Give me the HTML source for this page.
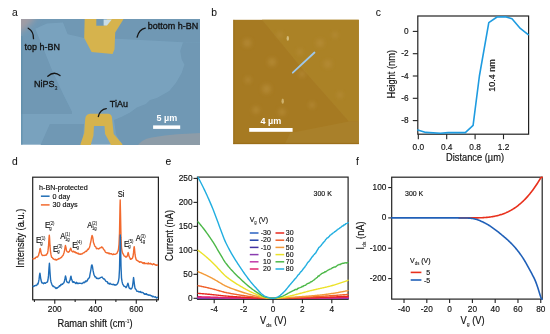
<!DOCTYPE html>
<html><head><meta charset="utf-8"><style>
html,body{margin:0;padding:0;background:#fff;width:550px;height:334px;overflow:hidden;}
svg{display:block;font-family:"Liberation Sans",sans-serif;will-change:transform;}
</style></head><body>
<svg width="550" height="334" viewBox="0 0 550 334" font-family="Liberation Sans, sans-serif">
<text transform="translate(12.1,15.7) scale(1,1.1)" font-size="10.3" text-anchor="start" fill="#111111" font-weight="normal" stroke="#111111" stroke-width="0.05" >a</text>
<text transform="translate(211.3,15.5) scale(1,1.1)" font-size="10.3" text-anchor="start" fill="#111111" font-weight="normal" stroke="#111111" stroke-width="0.05" >b</text>
<text transform="translate(375.7,15.5) scale(1,1.1)" font-size="10.3" text-anchor="start" fill="#111111" font-weight="normal" stroke="#111111" stroke-width="0.05" >c</text>
<text transform="translate(12.1,165.1) scale(1,1.1)" font-size="10.3" text-anchor="start" fill="#111111" font-weight="normal" stroke="#111111" stroke-width="0.05" >d</text>
<text transform="translate(165.4,165.0) scale(1,1.1)" font-size="10.3" text-anchor="start" fill="#111111" font-weight="normal" stroke="#111111" stroke-width="0.05" >e</text>
<text transform="translate(356.1,165.0) scale(1,1.1)" font-size="10.3" text-anchor="start" fill="#111111" font-weight="normal" stroke="#111111" stroke-width="0.05" >f</text>
<svg x="21.0" y="19.5" width="179.0" height="125.19999999999999" viewBox="21.0 19.5 179.0 125.19999999999999" overflow="hidden">
<defs><filter id="ba" x="-20%" y="-20%" width="140%" height="140%"><feGaussianBlur stdDeviation="0.6"/></filter><filter id="bc" x="-50%" y="-50%" width="200%" height="200%"><feGaussianBlur stdDeviation="3"/></filter></defs>
<rect x="21.0" y="19.5" width="179.0" height="125.19999999999999" fill="#79a2be"/>
<g filter="url(#ba)">
<polygon points="10,10 210,10 210,42.4 183,42.2 116.9,38.7 84.2,37.9 67.6,34.2 63,22.5 47,23.4 35.3,28.8 44,50 52,70 63.6,95 72,111.8 72,114.1 10,114.1" fill="#6f98b4"/>
<polygon points="183,42.2 180.2,51 181.6,59.3 184.4,64.8 181.6,73 176,82.7 169.2,91 156.8,97.9 150,100 145.8,104 136.8,107.5 130,112.5 121.7,116.7 114,120 116,134 124,150 210,150 210,42.4" fill="#6f98b4"/>
<polygon points="38.3,150 49.8,124 84,124 82,150" fill="#6f98b4"/>
<path d="M135,150 Q140,139 151.8,137.6 Q165,135 176.9,134.3 L210,132.6 L210,150 Z" fill="#8d9ca8"/>
</g>
<rect x="21.0" y="36" width="1.6" height="108.69999999999999" fill="#5a8aa8" opacity="0.55"/>
<polygon points="10,10 40,10 32,22 24,30 10,36" fill="#a09ca4" filter="url(#bc)"/>
<polygon points="84.9,10 96.3,10 96.3,25.8 104.4,25.8 110.5,10 123.3,10 123.3,19.5 115.2,32.5 114.5,49.3 112.5,54 91.6,52 84.2,37.9" fill="#d6b34e" filter="url(#ba)"/>
<polygon points="103.6,19.5 111.8,19.5 107,25.6 103.6,25.6" fill="#c9dde8" filter="url(#ba)"/>
<path d="M80.5,150 L80.5,144 L84.2,133.2 L85.2,119 Q85.8,114 90,113.8 L108,113.8 Q111.8,114 112,118 L113.7,133.9 L122.3,144 L123,150 L111,150 L110.6,144 L105.1,133.9 L104.5,126.1 L94,126.1 L93.4,135.7 L91,144 L91,150 Z" fill="#d6b34e" filter="url(#ba)"/>
</svg>
<path d="M28.2,28.2 Q33.8,31.5 33.5,38.7" fill="none" stroke="#151515" stroke-width="1.3" stroke-linecap="round"/>
<text transform="translate(24.6,49.6) scale(1,1.1)" font-size="9" text-anchor="start" fill="#111111" font-weight="normal" stroke="#111111" stroke-width="0.3" >top h-BN</text>
<path d="M145.3,28.2 Q139,29.5 137.1,37.2" fill="none" stroke="#151515" stroke-width="1.3" stroke-linecap="round"/>
<text transform="translate(147.8,29.2) scale(1,1.1)" font-size="9" text-anchor="start" fill="#111111" font-weight="normal" stroke="#111111" stroke-width="0.3" >bottom h-BN</text>
<path d="M47.8,76.3 Q54,70.5 60,75.6" fill="none" stroke="#151515" stroke-width="1.3" stroke-linecap="round"/>
<text transform="translate(33.9,86.9) scale(1,1.1)" font-size="9" text-anchor="start" fill="#111111" font-weight="normal" stroke="#111111" stroke-width="0.3" >NiPS<tspan font-size="5.4" stroke-width="0.05" dy="2.9">3</tspan></text>
<path d="M106.3,108.7 Q100.2,109.5 98.3,116.5" fill="none" stroke="#151515" stroke-width="1.3" stroke-linecap="round"/>
<text transform="translate(109.8,107.1) scale(1,1.1)" font-size="9" text-anchor="start" fill="#111111" font-weight="normal" stroke="#111111" stroke-width="0.3" >TiAu</text>
<text transform="translate(156.6,121.4) scale(1,1.1)" font-size="9" text-anchor="start" fill="#ffffff" font-weight="bold"  >5 µm</text>
<rect x="153.1" y="125.4" width="27.1" height="3.5" fill="#ffffff"/>
<svg x="233.2" y="19.8" width="125.69999999999999" height="124.3" viewBox="233.2 19.8 125.69999999999999 124.3" overflow="hidden">
<defs><filter id="bl" x="-50%" y="-50%" width="200%" height="200%"><feGaussianBlur stdDeviation="2.2"/></filter><filter id="bs" x="-100%" y="-100%" width="300%" height="300%"><feGaussianBlur stdDeviation="0.5"/></filter></defs>
<rect x="233.2" y="19.8" width="125.69999999999999" height="124.3" fill="#a67a22"/>
<polygon points="262,19.8 358.7,19.8 358.7,121.5 349,121.5 300,66" fill="#ab8228" filter="url(#bs)"/>
<polygon points="290,133 349,121.5 358.7,121.5 358.7,143.7 285,143.7" fill="#a9802a"/>
<circle cx="247.3" cy="43" r="4" fill="#b88e3a" opacity="0.7" filter="url(#bl)"/>
<circle cx="272" cy="62" r="4" fill="#b88e3a" opacity="0.7" filter="url(#bl)"/>
<circle cx="266.5" cy="89" r="4.5" fill="#b88e3a" opacity="0.7" filter="url(#bl)"/>
<circle cx="320" cy="43" r="4" fill="#b88e3a" opacity="0.7" filter="url(#bl)"/>
<circle cx="327.8" cy="64" r="4" fill="#b88e3a" opacity="0.7" filter="url(#bl)"/>
<circle cx="302" cy="74" r="3" fill="#b88e3a" opacity="0.7" filter="url(#bl)"/>
<circle cx="256" cy="110" r="3.5" fill="#b88e3a" opacity="0.7" filter="url(#bl)"/>
<circle cx="282" cy="112" r="3.5" fill="#b88e3a" opacity="0.7" filter="url(#bl)"/>
<circle cx="312" cy="105" r="3" fill="#b88e3a" opacity="0.7" filter="url(#bl)"/>
<circle cx="340" cy="95" r="3" fill="#b88e3a" opacity="0.7" filter="url(#bl)"/>
<circle cx="300" cy="52" r="3" fill="#b88e3a" opacity="0.7" filter="url(#bl)"/>
<circle cx="248" cy="80" r="3" fill="#b88e3a" opacity="0.7" filter="url(#bl)"/>
<circle cx="335" cy="35" r="3" fill="#b88e3a" opacity="0.7" filter="url(#bl)"/>
<circle cx="280" cy="35" r="3" fill="#b88e3a" opacity="0.7" filter="url(#bl)"/>
<ellipse cx="287.8" cy="38.4" rx="1.2" ry="2.4" fill="#dcc78a" filter="url(#bs)" opacity="0.85"/>
<ellipse cx="282.7" cy="101.2" rx="1.2" ry="2.6" fill="#d8c080" filter="url(#bs)" opacity="0.8"/>
<rect x="233.2" y="142.9" width="125.69999999999999" height="1.2" fill="#946512" opacity="0.6"/>
<rect x="233.2" y="19.8" width="1.2" height="124.3" fill="#946512" opacity="0.5"/>
</svg>
<line x1="292.8" y1="72.7" x2="314.5" y2="52.5" stroke="#9ec8ec" stroke-width="1.8" stroke-linecap="round"/>
<text transform="translate(260.6,123.9) scale(1,1.1)" font-size="9" text-anchor="start" fill="#ffffff" font-weight="bold"  >4 µm</text>
<rect x="249.2" y="128" width="43.4" height="3.8" fill="#ffffff"/>
<rect x="417.8" y="16.0" width="110.80000000000001" height="118.19999999999999" fill="none" stroke="#222222" stroke-width="1.2"/>
<line x1="412.8" y1="31.4" x2="417.8" y2="31.4" stroke="#222222" stroke-width="1.1"/>
<text transform="translate(408.6,33.9) scale(1,1.1)" font-size="8.3" text-anchor="end" fill="#111111" font-weight="normal" stroke="#111111" stroke-width="0.15" >0</text>
<line x1="412.8" y1="53.7" x2="417.8" y2="53.7" stroke="#222222" stroke-width="1.1"/>
<text transform="translate(408.6,56.2) scale(1,1.1)" font-size="8.3" text-anchor="end" fill="#111111" font-weight="normal" stroke="#111111" stroke-width="0.15" >-2</text>
<line x1="412.8" y1="76.0" x2="417.8" y2="76.0" stroke="#222222" stroke-width="1.1"/>
<text transform="translate(408.6,78.5) scale(1,1.1)" font-size="8.3" text-anchor="end" fill="#111111" font-weight="normal" stroke="#111111" stroke-width="0.15" >-4</text>
<line x1="412.8" y1="98.30000000000001" x2="417.8" y2="98.30000000000001" stroke="#222222" stroke-width="1.1"/>
<text transform="translate(408.6,100.80000000000001) scale(1,1.1)" font-size="8.3" text-anchor="end" fill="#111111" font-weight="normal" stroke="#111111" stroke-width="0.15" >-6</text>
<line x1="412.8" y1="120.6" x2="417.8" y2="120.6" stroke="#222222" stroke-width="1.1"/>
<text transform="translate(408.6,123.1) scale(1,1.1)" font-size="8.3" text-anchor="end" fill="#111111" font-weight="normal" stroke="#111111" stroke-width="0.15" >-8</text>
<line x1="418.3" y1="134.2" x2="418.3" y2="139.2" stroke="#222222" stroke-width="1.1"/>
<text transform="translate(418.3,149.6) scale(1,1.1)" font-size="8.3" text-anchor="middle" fill="#111111" font-weight="normal" stroke="#111111" stroke-width="0.15" >0.0</text>
<line x1="446.7" y1="134.2" x2="446.7" y2="139.2" stroke="#222222" stroke-width="1.1"/>
<text transform="translate(446.7,149.6) scale(1,1.1)" font-size="8.3" text-anchor="middle" fill="#111111" font-weight="normal" stroke="#111111" stroke-width="0.15" >0.4</text>
<line x1="475.1" y1="134.2" x2="475.1" y2="139.2" stroke="#222222" stroke-width="1.1"/>
<text transform="translate(475.1,149.6) scale(1,1.1)" font-size="8.3" text-anchor="middle" fill="#111111" font-weight="normal" stroke="#111111" stroke-width="0.15" >0.8</text>
<line x1="503.5" y1="134.2" x2="503.5" y2="139.2" stroke="#222222" stroke-width="1.1"/>
<text transform="translate(503.5,149.6) scale(1,1.1)" font-size="8.3" text-anchor="middle" fill="#111111" font-weight="normal" stroke="#111111" stroke-width="0.15" >1.2</text>
<text transform="translate(394.6,74.3) rotate(-90) scale(1,1.1)" x="0" y="0" font-size="9.3" text-anchor="middle" fill="#111111" stroke="#111111" stroke-width="0.15">Height (nm)</text>
<text transform="translate(475.0,160.6) scale(1,1.1)" font-size="9.3" text-anchor="middle" fill="#111111" font-weight="normal" stroke="#111111" stroke-width="0.15" >Distance (µm)</text>
<polyline points="417.80,130.00 425.80,132.40 440.50,133.20 448.10,132.60 465.30,132.60 473.10,125.30 479.40,76.00 488.80,22.70 497.00,17.00 505.40,16.70 512.00,18.80 520.30,28.40 528.20,34.60" fill="none" stroke="#1e9be0" stroke-width="1.6" stroke-linejoin="round" stroke-linecap="round" />
<text transform="translate(495.3,75.5) rotate(-90) scale(1,1.1)" x="0" y="0" font-size="9" text-anchor="middle" fill="#111111" stroke="#111111" stroke-width="0.15">10.4 nm</text>
<rect x="32.7" y="177.2" width="125.7" height="122.60000000000002" fill="none" stroke="#222222" stroke-width="1.2"/>
<line x1="34.4" y1="299.8" x2="34.4" y2="302.0" stroke="#222222" stroke-width="1.1"/>
<line x1="54.775" y1="299.8" x2="54.775" y2="303.8" stroke="#222222" stroke-width="1.1"/>
<text transform="translate(54.775,312.2) scale(1,1.1)" font-size="8.3" text-anchor="middle" fill="#111111" font-weight="normal" stroke="#111111" stroke-width="0.15" >200</text>
<line x1="75.15" y1="299.8" x2="75.15" y2="302.0" stroke="#222222" stroke-width="1.1"/>
<line x1="95.52499999999999" y1="299.8" x2="95.52499999999999" y2="303.8" stroke="#222222" stroke-width="1.1"/>
<text transform="translate(95.52499999999999,312.2) scale(1,1.1)" font-size="8.3" text-anchor="middle" fill="#111111" font-weight="normal" stroke="#111111" stroke-width="0.15" >400</text>
<line x1="115.9" y1="299.8" x2="115.9" y2="302.0" stroke="#222222" stroke-width="1.1"/>
<line x1="136.275" y1="299.8" x2="136.275" y2="303.8" stroke="#222222" stroke-width="1.1"/>
<text transform="translate(136.275,312.2) scale(1,1.1)" font-size="8.3" text-anchor="middle" fill="#111111" font-weight="normal" stroke="#111111" stroke-width="0.15" >600</text>
<line x1="156.64999999999998" y1="299.8" x2="156.64999999999998" y2="302.0" stroke="#222222" stroke-width="1.1"/>
<text transform="translate(95.0,327.0) scale(1,1.1)" font-size="9.3" text-anchor="middle" fill="#111111" font-weight="normal" stroke="#111111" stroke-width="0.15" >Raman shift (cm<tspan font-size="4.8" stroke-width="0.05" dy="-3.3">-1</tspan><tspan dy="3.3">)</tspan></text>
<text transform="translate(24.4,238.2) rotate(-90) scale(1,1.1)" x="0" y="0" font-size="9.3" text-anchor="middle" fill="#111111" stroke="#111111" stroke-width="0.15">Intensity (a.u.)</text>
<text transform="translate(39.0,189.6) scale(1,1.1)" font-size="7.2" text-anchor="start" fill="#111111" font-weight="normal" stroke="#111111" stroke-width="0.15" >h-BN-protected</text>
<line x1="40.9" y1="196.2" x2="49.6" y2="196.2" stroke="#1f6db5" stroke-width="1.5"/>
<text transform="translate(52.5,198.6) scale(1,1.1)" font-size="7.2" text-anchor="start" fill="#111111" font-weight="normal" stroke="#111111" stroke-width="0.15" >0 day</text>
<line x1="40.9" y1="204.9" x2="49.6" y2="204.9" stroke="#f26a2e" stroke-width="1.5"/>
<text transform="translate(52.5,207.3) scale(1,1.1)" font-size="7.2" text-anchor="start" fill="#111111" font-weight="normal" stroke="#111111" stroke-width="0.15" >30 days</text>
<polyline points="33.00,258.80 33.50,258.99 34.00,258.71 34.50,258.52 35.00,258.64 35.50,257.44 36.00,257.41 36.50,256.91 37.00,257.03 37.50,257.03 38.00,256.15 38.50,255.60 39.00,253.46 39.50,251.85 40.00,248.89 40.20,248.45 40.50,249.24 41.00,252.37 41.50,253.91 42.00,255.09 42.50,255.55 43.00,255.41 43.50,255.42 44.00,255.54 44.50,255.37 45.00,255.31 45.50,255.30 46.00,254.92 46.50,255.08 47.00,253.64 47.50,253.36 48.00,250.63 48.50,246.18 49.00,238.02 49.30,235.18 49.50,236.76 50.00,245.93 50.50,251.57 51.00,254.70 51.50,256.92 52.00,257.45 52.50,257.74 53.00,258.75 53.50,258.76 54.00,259.34 54.50,259.64 55.00,259.56 55.50,259.27 56.00,260.07 56.50,260.11 57.00,259.50 57.50,259.50 58.00,259.40 58.50,258.57 59.00,258.88 59.50,258.71 60.00,258.19 60.50,257.89 61.00,257.52 61.50,257.55 62.00,256.42 62.50,255.86 63.00,255.47 63.50,254.15 64.00,252.73 64.50,250.86 65.00,247.73 65.40,245.52 65.50,245.59 66.00,247.68 66.50,250.52 67.00,251.50 67.50,251.82 68.00,252.02 68.50,252.21 69.00,251.68 69.50,251.33 70.00,249.70 70.50,248.56 70.70,248.31 71.00,248.78 71.50,250.50 72.00,251.31 72.50,251.76 73.00,251.94 73.50,251.12 74.00,251.49 74.50,252.16 75.00,252.45 75.50,251.93 76.00,253.09 76.50,252.73 77.00,253.01 77.50,253.39 78.00,253.76 78.50,253.19 79.00,254.23 79.50,254.10 80.00,253.98 80.50,254.34 81.00,253.85 81.50,254.06 82.00,254.02 82.50,253.38 83.00,253.17 83.50,252.88 84.00,252.59 84.50,252.56 85.00,251.81 85.50,251.32 86.00,251.17 86.50,251.41 87.00,250.23 87.50,250.13 88.00,248.91 88.50,249.32 89.00,248.27 89.50,247.42 90.00,245.42 90.50,242.98 91.00,240.87 91.50,237.76 92.00,235.61 92.10,235.53 92.50,236.49 93.00,238.89 93.50,242.67 94.00,243.71 94.50,245.25 95.00,246.41 95.50,246.64 96.00,247.47 96.50,248.77 97.00,248.45 97.50,248.52 98.00,248.47 98.50,248.92 99.00,248.73 99.50,248.34 100.00,247.86 100.50,247.82 101.00,247.57 101.50,246.90 102.00,247.62 102.50,247.30 103.00,248.22 103.50,249.20 104.00,249.89 104.50,250.14 105.00,251.28 105.50,252.15 106.00,252.55 106.50,252.64 107.00,253.02 107.50,253.04 108.00,252.67 108.50,253.16 109.00,253.84 109.50,253.15 110.00,253.73 110.50,253.72 111.00,253.69 111.50,253.80 112.00,254.33 112.50,254.54 113.00,254.66 113.50,253.95 114.00,254.25 114.50,254.34 115.00,254.40 115.50,254.12 116.00,253.95 116.50,253.73 117.00,253.19 117.50,251.95 118.00,251.16 118.50,249.06 119.00,244.29 119.50,233.24 120.00,206.39 120.20,200.02 120.50,212.72 121.00,237.39 121.50,247.57 122.00,250.81 122.50,252.82 123.00,253.65 123.50,254.57 124.00,255.70 124.50,256.06 125.00,256.18 125.50,256.87 126.00,257.18 126.50,256.72 127.00,256.53 127.50,255.32 128.00,252.94 128.20,252.59 128.50,253.61 129.00,256.15 129.50,257.24 130.00,258.13 130.50,259.38 131.00,258.53 131.50,259.01 132.00,258.44 132.50,258.07 133.00,256.58 133.50,252.67 134.00,247.47 134.20,246.59 134.50,248.63 135.00,254.21 135.50,257.27 136.00,259.13 136.50,260.19 137.00,260.43 137.50,260.38 138.00,261.08 138.50,261.22 139.00,261.58 139.50,262.26 140.00,261.73 140.50,261.97 141.00,261.83 141.50,262.20 142.00,262.26 142.50,263.17 143.00,262.87 143.50,262.71 144.00,263.74 144.50,262.67 145.00,263.51 145.50,263.64 146.00,263.56 146.50,263.34 147.00,263.46 147.50,263.46 148.00,263.92 148.50,262.90 149.00,263.61 149.50,263.91 150.00,263.73 150.50,263.35 151.00,263.96 151.50,263.83 152.00,264.43 152.50,264.69 153.00,264.28 153.50,263.64 154.00,264.30 154.50,264.10 155.00,264.72 155.50,265.12 156.00,264.70 156.50,265.35 157.00,265.22 157.50,264.99" fill="none" stroke="#f26a2e" stroke-width="1.4" stroke-linejoin="round" stroke-linecap="round" />
<polyline points="33.00,286.24 33.50,286.61 34.00,286.45 34.50,285.73 35.00,285.67 35.50,285.43 36.00,285.62 36.50,285.16 37.00,285.10 37.50,283.65 38.00,284.01 38.50,282.00 39.00,279.67 39.50,275.24 39.90,273.21 40.00,273.33 40.50,277.04 41.00,280.05 41.50,281.87 42.00,283.05 42.50,282.94 43.00,282.92 43.50,283.65 44.00,283.26 44.50,282.84 45.00,283.19 45.50,283.21 46.00,282.76 46.50,282.33 47.00,282.32 47.50,281.83 48.00,279.72 48.50,275.64 49.00,268.14 49.40,263.30 49.50,263.72 50.00,272.32 50.50,279.14 51.00,281.92 51.50,283.39 52.00,284.79 52.50,285.52 53.00,286.41 53.50,286.07 54.00,286.71 54.50,287.04 55.00,287.09 55.50,288.08 56.00,288.55 56.50,287.81 57.00,288.24 57.50,287.73 58.00,287.33 58.50,286.92 59.00,286.78 59.50,285.64 60.00,285.97 60.50,285.60 61.00,284.39 61.50,284.74 62.00,284.11 62.50,284.25 63.00,283.52 63.50,283.22 64.00,282.59 64.50,280.72 65.00,278.50 65.50,275.94 65.50,275.94 66.00,277.89 66.50,280.96 67.00,282.00 67.50,282.22 68.00,282.66 68.50,282.81 69.00,282.71 69.50,280.89 70.00,280.37 70.50,277.69 70.90,276.10 71.00,276.20 71.50,279.01 72.00,280.14 72.50,281.75 73.00,282.46 73.50,281.66 74.00,282.22 74.50,282.04 75.00,282.72 75.50,283.27 76.00,283.55 76.50,282.30 77.00,282.80 77.50,283.32 78.00,283.69 78.50,283.34 79.00,282.99 79.50,283.41 80.00,283.35 80.50,283.33 81.00,283.18 81.50,283.61 82.00,283.61 82.50,283.23 83.00,282.94 83.50,282.31 84.00,282.33 84.50,282.64 85.00,281.85 85.50,281.09 86.00,281.71 86.50,281.03 87.00,281.14 87.50,279.98 88.00,279.26 88.50,278.21 89.00,278.23 89.50,277.37 90.00,274.36 90.50,271.89 91.00,269.12 91.50,265.61 91.90,264.87 92.00,264.91 92.50,266.78 93.00,270.15 93.50,272.52 94.00,274.85 94.50,275.75 95.00,276.93 95.50,276.69 96.00,277.34 96.50,278.41 97.00,278.10 97.50,278.54 98.00,278.50 98.50,278.71 99.00,278.45 99.50,278.41 100.00,277.90 100.50,277.55 101.00,277.40 101.50,277.33 102.00,276.94 102.50,277.61 103.00,278.23 103.50,278.81 104.00,279.05 104.50,278.95 105.00,280.05 105.50,280.60 106.00,281.34 106.50,281.60 107.00,281.61 107.50,282.02 108.00,283.42 108.50,283.18 109.00,283.75 109.50,284.05 110.00,283.21 110.50,283.82 111.00,284.04 111.50,284.26 112.00,284.43 112.50,284.48 113.00,284.64 113.50,284.21 114.00,284.83 114.50,284.76 115.00,285.18 115.50,284.80 116.00,284.97 116.50,284.77 117.00,284.21 117.50,283.64 118.00,282.65 118.50,281.01 119.00,277.87 119.50,269.27 120.00,246.65 120.30,235.04 120.50,241.06 121.00,266.31 121.50,277.84 122.00,281.42 122.50,283.39 123.00,284.68 123.50,285.33 124.00,286.20 124.50,286.33 125.00,286.49 125.50,286.81 126.00,287.66 126.50,287.02 127.00,285.85 127.50,284.39 127.90,283.19 128.00,283.33 128.50,285.19 129.00,287.63 129.50,288.48 130.00,288.20 130.50,288.93 131.00,289.12 131.50,288.64 132.00,287.85 132.50,286.45 133.00,282.50 133.50,277.73 133.60,277.52 134.00,280.72 134.50,285.08 135.00,288.23 135.50,289.03 136.00,289.53 136.50,290.54 137.00,291.38 137.50,291.42 138.00,291.15 138.50,291.80 139.00,291.61 139.50,291.92 140.00,292.18 140.50,291.51 141.00,292.56 141.50,292.30 142.00,292.59 142.50,292.48 143.00,292.64 143.50,293.01 144.00,293.79 144.50,294.25 145.00,293.82 145.50,294.37 146.00,294.06 146.50,293.65 147.00,294.53 147.50,294.79 148.00,294.65 148.50,295.06 149.00,295.32 149.50,294.97 150.00,294.92 150.50,295.50 151.00,295.64 151.50,295.73 152.00,296.34 152.50,296.74 153.00,296.13 153.50,296.66 154.00,296.89 154.50,296.95 155.00,297.20 155.50,296.84 156.00,297.37 156.50,297.96 157.00,297.67 157.50,297.32" fill="none" stroke="#1f6db8" stroke-width="1.4" stroke-linejoin="round" stroke-linecap="round" />
<text transform="translate(35.9,243.15) scale(1,1.1)" font-size="7.6" text-anchor="start" fill="#111111" font-weight="normal" stroke="#111111" stroke-width="0.15" >E</text>
<text transform="translate(40.199999999999996,244.75) scale(1,1.1)" font-size="4.3" text-anchor="start" fill="#111111" font-weight="normal" stroke="#111111" stroke-width="0.05" >g</text>
<text transform="translate(40.199999999999996,239.75) scale(1,1.1)" font-size="4.3" text-anchor="start" fill="#111111" font-weight="normal" stroke="#111111" stroke-width="0.05" >(1)</text>
<text transform="translate(45.0,228.1) scale(1,1.1)" font-size="7.6" text-anchor="start" fill="#111111" font-weight="normal" stroke="#111111" stroke-width="0.15" >E</text>
<text transform="translate(49.3,229.7) scale(1,1.1)" font-size="4.3" text-anchor="start" fill="#111111" font-weight="normal" stroke="#111111" stroke-width="0.05" >g</text>
<text transform="translate(49.3,224.7) scale(1,1.1)" font-size="4.3" text-anchor="start" fill="#111111" font-weight="normal" stroke="#111111" stroke-width="0.05" >(2)</text>
<text transform="translate(52.9,251.8) scale(1,1.1)" font-size="7.6" text-anchor="start" fill="#111111" font-weight="normal" stroke="#111111" stroke-width="0.15" >E</text>
<text transform="translate(57.199999999999996,253.4) scale(1,1.1)" font-size="4.3" text-anchor="start" fill="#111111" font-weight="normal" stroke="#111111" stroke-width="0.05" >g</text>
<text transform="translate(57.199999999999996,248.4) scale(1,1.1)" font-size="4.3" text-anchor="start" fill="#111111" font-weight="normal" stroke="#111111" stroke-width="0.05" >(3)</text>
<text transform="translate(60.2,239.2) scale(1,1.1)" font-size="7.6" text-anchor="start" fill="#111111" font-weight="normal" stroke="#111111" stroke-width="0.15" >A</text>
<text transform="translate(64.9,240.79999999999998) scale(1,1.1)" font-size="4.3" text-anchor="start" fill="#111111" font-weight="normal" stroke="#111111" stroke-width="0.05" >1g</text>
<text transform="translate(64.9,235.79999999999998) scale(1,1.1)" font-size="4.3" text-anchor="start" fill="#111111" font-weight="normal" stroke="#111111" stroke-width="0.05" >(1)</text>
<text transform="translate(72.3,247.6) scale(1,1.1)" font-size="7.6" text-anchor="start" fill="#111111" font-weight="normal" stroke="#111111" stroke-width="0.15" >E</text>
<text transform="translate(76.6,249.2) scale(1,1.1)" font-size="4.3" text-anchor="start" fill="#111111" font-weight="normal" stroke="#111111" stroke-width="0.05" >g</text>
<text transform="translate(76.6,244.2) scale(1,1.1)" font-size="4.3" text-anchor="start" fill="#111111" font-weight="normal" stroke="#111111" stroke-width="0.05" >(4)</text>
<text transform="translate(87.2,228.0) scale(1,1.1)" font-size="7.6" text-anchor="start" fill="#111111" font-weight="normal" stroke="#111111" stroke-width="0.15" >A</text>
<text transform="translate(91.9,229.6) scale(1,1.1)" font-size="4.3" text-anchor="start" fill="#111111" font-weight="normal" stroke="#111111" stroke-width="0.05" >1g</text>
<text transform="translate(91.9,224.6) scale(1,1.1)" font-size="4.3" text-anchor="start" fill="#111111" font-weight="normal" stroke="#111111" stroke-width="0.05" >(2)</text>
<text transform="translate(117.7,196.6) scale(1,1.1)" font-size="7.6" text-anchor="start" fill="#111111" font-weight="normal" stroke="#111111" stroke-width="0.15" >Si</text>
<text transform="translate(123.9,246.8) scale(1,1.1)" font-size="7.6" text-anchor="start" fill="#111111" font-weight="normal" stroke="#111111" stroke-width="0.15" >E</text>
<text transform="translate(128.20000000000002,248.4) scale(1,1.1)" font-size="4.3" text-anchor="start" fill="#111111" font-weight="normal" stroke="#111111" stroke-width="0.05" >g</text>
<text transform="translate(128.20000000000002,243.4) scale(1,1.1)" font-size="4.3" text-anchor="start" fill="#111111" font-weight="normal" stroke="#111111" stroke-width="0.05" >(5)</text>
<text transform="translate(135.7,241.4) scale(1,1.1)" font-size="7.6" text-anchor="start" fill="#111111" font-weight="normal" stroke="#111111" stroke-width="0.15" >A</text>
<text transform="translate(140.39999999999998,243.0) scale(1,1.1)" font-size="4.3" text-anchor="start" fill="#111111" font-weight="normal" stroke="#111111" stroke-width="0.05" >1g</text>
<text transform="translate(140.39999999999998,238.0) scale(1,1.1)" font-size="4.3" text-anchor="start" fill="#111111" font-weight="normal" stroke="#111111" stroke-width="0.05" >(3)</text>
<rect x="197.5" y="177.1" width="150.60000000000002" height="122.20000000000002" fill="none" stroke="#222222" stroke-width="1.2"/>
<line x1="193.5" y1="298.3" x2="197.5" y2="298.3" stroke="#222222" stroke-width="1.1"/>
<text transform="translate(192.6,300.8) scale(1,1.1)" font-size="8.3" text-anchor="end" fill="#111111" font-weight="normal" stroke="#111111" stroke-width="0.15" >0</text>
<line x1="193.5" y1="274.32" x2="197.5" y2="274.32" stroke="#222222" stroke-width="1.1"/>
<text transform="translate(192.6,276.82) scale(1,1.1)" font-size="8.3" text-anchor="end" fill="#111111" font-weight="normal" stroke="#111111" stroke-width="0.15" >50</text>
<line x1="193.5" y1="250.34" x2="197.5" y2="250.34" stroke="#222222" stroke-width="1.1"/>
<text transform="translate(192.6,252.84) scale(1,1.1)" font-size="8.3" text-anchor="end" fill="#111111" font-weight="normal" stroke="#111111" stroke-width="0.15" >100</text>
<line x1="193.5" y1="226.36" x2="197.5" y2="226.36" stroke="#222222" stroke-width="1.1"/>
<text transform="translate(192.6,228.86) scale(1,1.1)" font-size="8.3" text-anchor="end" fill="#111111" font-weight="normal" stroke="#111111" stroke-width="0.15" >150</text>
<line x1="193.5" y1="202.38" x2="197.5" y2="202.38" stroke="#222222" stroke-width="1.1"/>
<text transform="translate(192.6,204.88) scale(1,1.1)" font-size="8.3" text-anchor="end" fill="#111111" font-weight="normal" stroke="#111111" stroke-width="0.15" >200</text>
<line x1="193.5" y1="178.4" x2="197.5" y2="178.4" stroke="#222222" stroke-width="1.1"/>
<text transform="translate(192.6,180.9) scale(1,1.1)" font-size="8.3" text-anchor="end" fill="#111111" font-weight="normal" stroke="#111111" stroke-width="0.15" >250</text>
<line x1="214.2" y1="299.3" x2="214.2" y2="303.3" stroke="#222222" stroke-width="1.1"/>
<text transform="translate(214.2,311.8) scale(1,1.1)" font-size="8.3" text-anchor="middle" fill="#111111" font-weight="normal" stroke="#111111" stroke-width="0.15" >-4</text>
<line x1="243.6" y1="299.3" x2="243.6" y2="303.3" stroke="#222222" stroke-width="1.1"/>
<text transform="translate(243.6,311.8) scale(1,1.1)" font-size="8.3" text-anchor="middle" fill="#111111" font-weight="normal" stroke="#111111" stroke-width="0.15" >-2</text>
<line x1="273.0" y1="299.3" x2="273.0" y2="303.3" stroke="#222222" stroke-width="1.1"/>
<text transform="translate(273.0,311.8) scale(1,1.1)" font-size="8.3" text-anchor="middle" fill="#111111" font-weight="normal" stroke="#111111" stroke-width="0.15" >0</text>
<line x1="302.4" y1="299.3" x2="302.4" y2="303.3" stroke="#222222" stroke-width="1.1"/>
<text transform="translate(302.4,311.8) scale(1,1.1)" font-size="8.3" text-anchor="middle" fill="#111111" font-weight="normal" stroke="#111111" stroke-width="0.15" >2</text>
<line x1="331.8" y1="299.3" x2="331.8" y2="303.3" stroke="#222222" stroke-width="1.1"/>
<text transform="translate(331.8,311.8) scale(1,1.1)" font-size="8.3" text-anchor="middle" fill="#111111" font-weight="normal" stroke="#111111" stroke-width="0.15" >4</text>
<text transform="translate(173.4,235.5) rotate(-90) scale(1,1.1)" x="0" y="0" font-size="9.3" text-anchor="middle" fill="#111111" stroke="#111111" stroke-width="0.15">Current (nA)</text>
<text transform="translate(260.0,324.0) scale(1,1.1)" font-size="9.3" text-anchor="start" fill="#111111" font-weight="normal" stroke="#111111" stroke-width="0.15" >V<tspan font-size="5.2" stroke-width="0.05" dy="2.6">ds</tspan><tspan dy="-2.6"> (V)</tspan></text>
<text transform="translate(313.6,196.0) scale(1,1.1)" font-size="7" text-anchor="start" fill="#111111" font-weight="normal" stroke="#111111" stroke-width="0.15" >300 K</text>
<text transform="translate(249.7,221.7) scale(1,1.1)" font-size="7" text-anchor="start" fill="#111111" font-weight="normal" stroke="#111111" stroke-width="0.15" >V<tspan font-size="4.3" stroke-width="0.05" dy="2.1">g</tspan><tspan dy="-2.1"> (V)</tspan></text>
<line x1="249.8" y1="233.0" x2="258.5" y2="233.0" stroke="#2a62c2" stroke-width="1.5"/>
<text transform="translate(270.8,235.2) scale(1,1.1)" font-size="7" text-anchor="end" fill="#111111" font-weight="normal" stroke="#111111" stroke-width="0.15" >-30</text>
<line x1="249.8" y1="240.2" x2="258.5" y2="240.2" stroke="#1f40a8" stroke-width="1.5"/>
<text transform="translate(270.8,242.39999999999998) scale(1,1.1)" font-size="7" text-anchor="end" fill="#111111" font-weight="normal" stroke="#111111" stroke-width="0.15" >-20</text>
<line x1="249.8" y1="247.4" x2="258.5" y2="247.4" stroke="#4232a2" stroke-width="1.5"/>
<text transform="translate(270.8,249.6) scale(1,1.1)" font-size="7" text-anchor="end" fill="#111111" font-weight="normal" stroke="#111111" stroke-width="0.15" >-10</text>
<line x1="249.8" y1="254.6" x2="258.5" y2="254.6" stroke="#8a3cb0" stroke-width="1.5"/>
<text transform="translate(270.8,256.8) scale(1,1.1)" font-size="7" text-anchor="end" fill="#111111" font-weight="normal" stroke="#111111" stroke-width="0.15" >0</text>
<line x1="249.8" y1="261.8" x2="258.5" y2="261.8" stroke="#c23aa8" stroke-width="1.5"/>
<text transform="translate(270.8,264.0) scale(1,1.1)" font-size="7" text-anchor="end" fill="#111111" font-weight="normal" stroke="#111111" stroke-width="0.15" >10</text>
<line x1="249.8" y1="269.0" x2="258.5" y2="269.0" stroke="#e0246e" stroke-width="1.5"/>
<text transform="translate(270.8,271.2) scale(1,1.1)" font-size="7" text-anchor="end" fill="#111111" font-weight="normal" stroke="#111111" stroke-width="0.15" >20</text>
<line x1="275.5" y1="233.0" x2="284.2" y2="233.0" stroke="#e8281e" stroke-width="1.5"/>
<text transform="translate(285.8,235.2) scale(1,1.1)" font-size="7" text-anchor="start" fill="#111111" font-weight="normal" stroke="#111111" stroke-width="0.15" >30</text>
<line x1="275.5" y1="240.2" x2="284.2" y2="240.2" stroke="#f0602a" stroke-width="1.5"/>
<text transform="translate(285.8,242.39999999999998) scale(1,1.1)" font-size="7" text-anchor="start" fill="#111111" font-weight="normal" stroke="#111111" stroke-width="0.15" >40</text>
<line x1="275.5" y1="247.4" x2="284.2" y2="247.4" stroke="#f39a38" stroke-width="1.5"/>
<text transform="translate(285.8,249.6) scale(1,1.1)" font-size="7" text-anchor="start" fill="#111111" font-weight="normal" stroke="#111111" stroke-width="0.15" >50</text>
<line x1="275.5" y1="254.6" x2="284.2" y2="254.6" stroke="#ece22a" stroke-width="1.5"/>
<text transform="translate(285.8,256.8) scale(1,1.1)" font-size="7" text-anchor="start" fill="#111111" font-weight="normal" stroke="#111111" stroke-width="0.15" >60</text>
<line x1="275.5" y1="261.8" x2="284.2" y2="261.8" stroke="#4cb848" stroke-width="1.5"/>
<text transform="translate(285.8,264.0) scale(1,1.1)" font-size="7" text-anchor="start" fill="#111111" font-weight="normal" stroke="#111111" stroke-width="0.15" >70</text>
<line x1="275.5" y1="269.0" x2="284.2" y2="269.0" stroke="#21aee0" stroke-width="1.5"/>
<text transform="translate(285.8,271.2) scale(1,1.1)" font-size="7" text-anchor="start" fill="#111111" font-weight="normal" stroke="#111111" stroke-width="0.15" >80</text>
<polyline points="198.03,298.28 198.78,298.28 199.54,298.28 200.29,298.28 201.05,298.28 201.80,298.28 202.56,298.28 203.31,298.28 204.07,298.28 204.82,298.28 205.58,298.28 206.33,298.28 207.09,298.28 207.84,298.28 208.60,298.28 209.35,298.28 210.11,298.28 210.86,298.28 211.62,298.28 212.37,298.28 213.13,298.28 213.88,298.28 214.64,298.28 215.39,298.28 216.15,298.28 216.90,298.28 217.66,298.28 218.41,298.29 219.17,298.29 219.92,298.29 220.68,298.29 221.43,298.29 222.19,298.29 222.94,298.29 223.70,298.29 224.45,298.29 225.21,298.29 225.96,298.29 226.72,298.29 227.47,298.29 228.23,298.29 228.98,298.29 229.74,298.29 230.49,298.29 231.25,298.29 232.00,298.29 232.76,298.29 233.51,298.29 234.27,298.29 235.02,298.29 235.78,298.29 236.53,298.29 237.29,298.29 238.04,298.29 238.80,298.29 239.55,298.29 240.31,298.29 241.06,298.29 241.82,298.29 242.57,298.29 243.33,298.29 244.08,298.29 244.84,298.30 245.59,298.30 246.35,298.30 247.10,298.30 247.86,298.30 248.61,298.30 249.37,298.30 250.12,298.30 250.88,298.30 251.63,298.30 252.39,298.30 253.14,298.30 253.90,298.30 254.65,298.30 255.41,298.30 256.16,298.30 256.92,298.30 257.67,298.30 258.43,298.30 259.18,298.30 259.94,298.30 260.69,298.30 261.45,298.30 262.20,298.30 262.96,298.30 263.71,298.30 264.47,298.30 265.22,298.30 265.98,298.30 266.73,298.30 267.48,298.30 268.24,298.30 268.99,298.30 269.75,298.30 270.50,298.30 271.26,298.30 272.01,298.30 272.77,298.30 273.52,298.30 274.28,298.30 275.03,298.30 275.79,298.30 276.54,298.30 277.30,298.30 278.05,298.30 278.81,298.30 279.56,298.30 280.32,298.30 281.07,298.30 281.83,298.30 282.58,298.30 283.34,298.30 284.09,298.30 284.85,298.30 285.60,298.30 286.36,298.30 287.11,298.30 287.87,298.30 288.62,298.30 289.38,298.30 290.13,298.30 290.89,298.30 291.64,298.30 292.40,298.30 293.15,298.30 293.91,298.30 294.66,298.30 295.42,298.30 296.17,298.30 296.93,298.30 297.68,298.30 298.44,298.30 299.19,298.30 299.95,298.30 300.70,298.30 301.46,298.30 302.21,298.30 302.97,298.30 303.72,298.30 304.48,298.30 305.23,298.30 305.99,298.30 306.74,298.30 307.50,298.30 308.25,298.30 309.01,298.30 309.76,298.30 310.52,298.30 311.27,298.29 312.03,298.29 312.78,298.29 313.54,298.29 314.29,298.29 315.05,298.29 315.80,298.29 316.56,298.29 317.31,298.29 318.07,298.29 318.82,298.29 319.58,298.29 320.33,298.29 321.09,298.29 321.84,298.29 322.60,298.29 323.35,298.29 324.11,298.29 324.86,298.29 325.62,298.29 326.37,298.29 327.13,298.29 327.88,298.29 328.64,298.29 329.39,298.29 330.15,298.29 330.90,298.29 331.66,298.29 332.41,298.29 333.17,298.29 333.92,298.28 334.67,298.28 335.43,298.28 336.18,298.28 336.94,298.28 337.69,298.28 338.45,298.28 339.20,298.28 339.96,298.28 340.71,298.28 341.47,298.28 342.22,298.28 342.98,298.28 343.73,298.28 344.49,298.28 345.24,298.28 346.00,298.28 346.75,298.28 347.51,298.28 348.10,298.28" fill="none" stroke="#2a62c2" stroke-width="1.4" stroke-linejoin="round" stroke-linecap="round" />
<polyline points="198.03,298.23 198.78,298.23 199.54,298.23 200.29,298.23 201.05,298.23 201.80,298.23 202.56,298.23 203.31,298.23 204.07,298.23 204.82,298.24 205.58,298.24 206.33,298.24 207.09,298.24 207.84,298.24 208.60,298.24 209.35,298.24 210.11,298.24 210.86,298.24 211.62,298.24 212.37,298.25 213.13,298.25 213.88,298.25 214.64,298.25 215.39,298.25 216.15,298.25 216.90,298.25 217.66,298.25 218.41,298.26 219.17,298.26 219.92,298.26 220.68,298.26 221.43,298.26 222.19,298.26 222.94,298.26 223.70,298.26 224.45,298.26 225.21,298.27 225.96,298.27 226.72,298.27 227.47,298.27 228.23,298.27 228.98,298.27 229.74,298.27 230.49,298.27 231.25,298.27 232.00,298.27 232.76,298.27 233.51,298.28 234.27,298.28 235.02,298.28 235.78,298.28 236.53,298.28 237.29,298.28 238.04,298.28 238.80,298.28 239.55,298.28 240.31,298.28 241.06,298.28 241.82,298.28 242.57,298.28 243.33,298.28 244.08,298.28 244.84,298.29 245.59,298.29 246.35,298.29 247.10,298.29 247.86,298.29 248.61,298.29 249.37,298.29 250.12,298.29 250.88,298.29 251.63,298.29 252.39,298.29 253.14,298.29 253.90,298.29 254.65,298.29 255.41,298.29 256.16,298.29 256.92,298.29 257.67,298.29 258.43,298.30 259.18,298.30 259.94,298.30 260.69,298.30 261.45,298.30 262.20,298.30 262.96,298.30 263.71,298.30 264.47,298.30 265.22,298.30 265.98,298.30 266.73,298.30 267.48,298.30 268.24,298.30 268.99,298.30 269.75,298.30 270.50,298.30 271.26,298.30 272.01,298.30 272.77,298.30 273.52,298.30 274.28,298.30 275.03,298.30 275.79,298.30 276.54,298.30 277.30,298.30 278.05,298.30 278.81,298.30 279.56,298.30 280.32,298.30 281.07,298.30 281.83,298.30 282.58,298.30 283.34,298.30 284.09,298.30 284.85,298.30 285.60,298.30 286.36,298.30 287.11,298.30 287.87,298.30 288.62,298.30 289.38,298.30 290.13,298.30 290.89,298.29 291.64,298.29 292.40,298.29 293.15,298.29 293.91,298.29 294.66,298.29 295.42,298.29 296.17,298.29 296.93,298.29 297.68,298.29 298.44,298.29 299.19,298.29 299.95,298.29 300.70,298.29 301.46,298.29 302.21,298.29 302.97,298.29 303.72,298.29 304.48,298.29 305.23,298.29 305.99,298.29 306.74,298.29 307.50,298.29 308.25,298.29 309.01,298.29 309.76,298.29 310.52,298.29 311.27,298.28 312.03,298.28 312.78,298.28 313.54,298.28 314.29,298.28 315.05,298.28 315.80,298.28 316.56,298.28 317.31,298.28 318.07,298.28 318.82,298.28 319.58,298.28 320.33,298.28 321.09,298.28 321.84,298.28 322.60,298.28 323.35,298.28 324.11,298.28 324.86,298.27 325.62,298.27 326.37,298.27 327.13,298.27 327.88,298.27 328.64,298.27 329.39,298.27 330.15,298.27 330.90,298.27 331.66,298.27 332.41,298.27 333.17,298.27 333.92,298.27 334.67,298.27 335.43,298.27 336.18,298.26 336.94,298.26 337.69,298.26 338.45,298.26 339.20,298.26 339.96,298.26 340.71,298.26 341.47,298.26 342.22,298.26 342.98,298.26 343.73,298.26 344.49,298.26 345.24,298.25 346.00,298.25 346.75,298.25 347.51,298.25 348.10,298.25" fill="none" stroke="#1f40a8" stroke-width="1.4" stroke-linejoin="round" stroke-linecap="round" />
<polyline points="198.03,298.13 198.78,298.13 199.54,298.13 200.29,298.14 201.05,298.14 201.80,298.14 202.56,298.14 203.31,298.14 204.07,298.15 204.82,298.15 205.58,298.15 206.33,298.15 207.09,298.16 207.84,298.16 208.60,298.16 209.35,298.16 210.11,298.17 210.86,298.17 211.62,298.17 212.37,298.17 213.13,298.18 213.88,298.18 214.64,298.18 215.39,298.18 216.15,298.19 216.90,298.19 217.66,298.19 218.41,298.20 219.17,298.20 219.92,298.20 220.68,298.20 221.43,298.21 222.19,298.21 222.94,298.21 223.70,298.22 224.45,298.22 225.21,298.22 225.96,298.22 226.72,298.22 227.47,298.23 228.23,298.23 228.98,298.23 229.74,298.23 230.49,298.23 231.25,298.24 232.00,298.24 232.76,298.24 233.51,298.24 234.27,298.24 235.02,298.25 235.78,298.25 236.53,298.25 237.29,298.25 238.04,298.25 238.80,298.25 239.55,298.26 240.31,298.26 241.06,298.26 241.82,298.26 242.57,298.26 243.33,298.26 244.08,298.26 244.84,298.27 245.59,298.27 246.35,298.27 247.10,298.27 247.86,298.27 248.61,298.27 249.37,298.27 250.12,298.28 250.88,298.28 251.63,298.28 252.39,298.28 253.14,298.28 253.90,298.28 254.65,298.28 255.41,298.28 256.16,298.29 256.92,298.29 257.67,298.29 258.43,298.29 259.18,298.29 259.94,298.29 260.69,298.29 261.45,298.29 262.20,298.29 262.96,298.30 263.71,298.30 264.47,298.30 265.22,298.30 265.98,298.30 266.73,298.30 267.48,298.30 268.24,298.30 268.99,298.30 269.75,298.30 270.50,298.30 271.26,298.30 272.01,298.30 272.77,298.30 273.52,298.30 274.28,298.30 275.03,298.30 275.79,298.30 276.54,298.30 277.30,298.30 278.05,298.30 278.81,298.30 279.56,298.30 280.32,298.30 281.07,298.29 281.83,298.29 282.58,298.29 283.34,298.29 284.09,298.29 284.85,298.29 285.60,298.29 286.36,298.29 287.11,298.29 287.87,298.29 288.62,298.29 289.38,298.29 290.13,298.29 290.89,298.29 291.64,298.28 292.40,298.28 293.15,298.28 293.91,298.28 294.66,298.28 295.42,298.28 296.17,298.28 296.93,298.28 297.68,298.28 298.44,298.28 299.19,298.28 299.95,298.27 300.70,298.27 301.46,298.27 302.21,298.27 302.97,298.27 303.72,298.27 304.48,298.27 305.23,298.27 305.99,298.27 306.74,298.27 307.50,298.26 308.25,298.26 309.01,298.26 309.76,298.26 310.52,298.26 311.27,298.26 312.03,298.26 312.78,298.26 313.54,298.26 314.29,298.25 315.05,298.25 315.80,298.25 316.56,298.25 317.31,298.25 318.07,298.25 318.82,298.25 319.58,298.25 320.33,298.24 321.09,298.24 321.84,298.24 322.60,298.24 323.35,298.24 324.11,298.24 324.86,298.24 325.62,298.23 326.37,298.23 327.13,298.23 327.88,298.23 328.64,298.23 329.39,298.23 330.15,298.22 330.90,298.22 331.66,298.22 332.41,298.22 333.17,298.22 333.92,298.21 334.67,298.21 335.43,298.21 336.18,298.21 336.94,298.21 337.69,298.21 338.45,298.20 339.20,298.20 339.96,298.20 340.71,298.20 341.47,298.20 342.22,298.19 342.98,298.19 343.73,298.19 344.49,298.19 345.24,298.19 346.00,298.18 346.75,298.18 347.51,298.18 348.10,298.18" fill="none" stroke="#4232a2" stroke-width="1.4" stroke-linejoin="round" stroke-linecap="round" />
<polyline points="198.03,297.96 198.78,297.97 199.54,297.97 200.29,297.97 201.05,297.98 201.80,297.98 202.56,297.99 203.31,297.99 204.07,297.99 204.82,298.00 205.58,298.00 206.33,298.01 207.09,298.01 207.84,298.02 208.60,298.02 209.35,298.03 210.11,298.03 210.86,298.04 211.62,298.04 212.37,298.05 213.13,298.05 213.88,298.06 214.64,298.06 215.39,298.07 216.15,298.07 216.90,298.08 217.66,298.09 218.41,298.09 219.17,298.10 219.92,298.10 220.68,298.11 221.43,298.11 222.19,298.12 222.94,298.12 223.70,298.13 224.45,298.14 225.21,298.14 225.96,298.15 226.72,298.15 227.47,298.15 228.23,298.16 228.98,298.16 229.74,298.17 230.49,298.17 231.25,298.17 232.00,298.18 232.76,298.18 233.51,298.18 234.27,298.19 235.02,298.19 235.78,298.19 236.53,298.20 237.29,298.20 238.04,298.20 238.80,298.21 239.55,298.21 240.31,298.21 241.06,298.22 241.82,298.22 242.57,298.22 243.33,298.23 244.08,298.23 244.84,298.23 245.59,298.24 246.35,298.24 247.10,298.24 247.86,298.24 248.61,298.25 249.37,298.25 250.12,298.25 250.88,298.25 251.63,298.26 252.39,298.26 253.14,298.26 253.90,298.26 254.65,298.27 255.41,298.27 256.16,298.27 256.92,298.27 257.67,298.28 258.43,298.28 259.18,298.28 259.94,298.28 260.69,298.29 261.45,298.29 262.20,298.29 262.96,298.29 263.71,298.29 264.47,298.29 265.22,298.29 265.98,298.30 266.73,298.30 267.48,298.30 268.24,298.30 268.99,298.30 269.75,298.30 270.50,298.30 271.26,298.30 272.01,298.30 272.77,298.30 273.52,298.30 274.28,298.30 275.03,298.30 275.79,298.30 276.54,298.30 277.30,298.30 278.05,298.30 278.81,298.29 279.56,298.29 280.32,298.29 281.07,298.29 281.83,298.29 282.58,298.29 283.34,298.29 284.09,298.29 284.85,298.29 285.60,298.28 286.36,298.28 287.11,298.28 287.87,298.28 288.62,298.28 289.38,298.28 290.13,298.28 290.89,298.27 291.64,298.27 292.40,298.27 293.15,298.27 293.91,298.27 294.66,298.27 295.42,298.26 296.17,298.26 296.93,298.26 297.68,298.26 298.44,298.26 299.19,298.26 299.95,298.25 300.70,298.25 301.46,298.25 302.21,298.25 302.97,298.25 303.72,298.24 304.48,298.24 305.23,298.24 305.99,298.24 306.74,298.24 307.50,298.23 308.25,298.23 309.01,298.23 309.76,298.23 310.52,298.23 311.27,298.22 312.03,298.22 312.78,298.22 313.54,298.22 314.29,298.21 315.05,298.21 315.80,298.21 316.56,298.21 317.31,298.20 318.07,298.20 318.82,298.20 319.58,298.20 320.33,298.19 321.09,298.19 321.84,298.19 322.60,298.18 323.35,298.18 324.11,298.18 324.86,298.17 325.62,298.17 326.37,298.17 327.13,298.16 327.88,298.16 328.64,298.16 329.39,298.15 330.15,298.15 330.90,298.15 331.66,298.14 332.41,298.14 333.17,298.14 333.92,298.13 334.67,298.13 335.43,298.13 336.18,298.12 336.94,298.12 337.69,298.11 338.45,298.11 339.20,298.11 339.96,298.10 340.71,298.10 341.47,298.09 342.22,298.09 342.98,298.08 343.73,298.08 344.49,298.08 345.24,298.07 346.00,298.07 346.75,298.06 347.51,298.06 348.10,298.06" fill="none" stroke="#8a3cb0" stroke-width="1.4" stroke-linejoin="round" stroke-linecap="round" />
<polyline points="198.03,297.53 198.78,297.53 199.54,297.54 200.29,297.55 201.05,297.56 201.80,297.57 202.56,297.58 203.31,297.59 204.07,297.60 204.82,297.61 205.58,297.62 206.33,297.63 207.09,297.64 207.84,297.65 208.60,297.66 209.35,297.67 210.11,297.69 210.86,297.70 211.62,297.71 212.37,297.72 213.13,297.73 213.88,297.74 214.64,297.76 215.39,297.77 216.15,297.78 216.90,297.80 217.66,297.81 218.41,297.82 219.17,297.83 219.92,297.85 220.68,297.86 221.43,297.87 222.19,297.89 222.94,297.90 223.70,297.91 224.45,297.92 225.21,297.94 225.96,297.95 226.72,297.96 227.47,297.97 228.23,297.97 228.98,297.98 229.74,297.99 230.49,298.00 231.25,298.01 232.00,298.02 232.76,298.03 233.51,298.04 234.27,298.04 235.02,298.05 235.78,298.06 236.53,298.07 237.29,298.07 238.04,298.08 238.80,298.09 239.55,298.10 240.31,298.10 241.06,298.11 241.82,298.12 242.57,298.12 243.33,298.13 244.08,298.14 244.84,298.14 245.59,298.15 246.35,298.16 247.10,298.17 247.86,298.17 248.61,298.18 249.37,298.18 250.12,298.19 250.88,298.20 251.63,298.20 252.39,298.21 253.14,298.21 253.90,298.22 254.65,298.22 255.41,298.23 256.16,298.23 256.92,298.24 257.67,298.25 258.43,298.25 259.18,298.26 259.94,298.26 260.69,298.27 261.45,298.27 262.20,298.27 262.96,298.28 263.71,298.28 264.47,298.28 265.22,298.29 265.98,298.29 266.73,298.29 267.48,298.29 268.24,298.29 268.99,298.30 269.75,298.30 270.50,298.30 271.26,298.30 272.01,298.30 272.77,298.30 273.52,298.30 274.28,298.30 275.03,298.30 275.79,298.30 276.54,298.29 277.30,298.29 278.05,298.29 278.81,298.29 279.56,298.29 280.32,298.28 281.07,298.28 281.83,298.28 282.58,298.28 283.34,298.28 284.09,298.27 284.85,298.27 285.60,298.27 286.36,298.27 287.11,298.26 287.87,298.26 288.62,298.26 289.38,298.25 290.13,298.25 290.89,298.25 291.64,298.25 292.40,298.24 293.15,298.24 293.91,298.24 294.66,298.23 295.42,298.23 296.17,298.23 296.93,298.22 297.68,298.22 298.44,298.21 299.19,298.21 299.95,298.21 300.70,298.20 301.46,298.20 302.21,298.20 302.97,298.19 303.72,298.19 304.48,298.18 305.23,298.18 305.99,298.18 306.74,298.17 307.50,298.17 308.25,298.16 309.01,298.16 309.76,298.16 310.52,298.15 311.27,298.15 312.03,298.14 312.78,298.14 313.54,298.13 314.29,298.13 315.05,298.12 315.80,298.12 316.56,298.11 317.31,298.11 318.07,298.10 318.82,298.10 319.58,298.09 320.33,298.09 321.09,298.08 321.84,298.07 322.60,298.07 323.35,298.06 324.11,298.06 324.86,298.05 325.62,298.04 326.37,298.04 327.13,298.03 327.88,298.02 328.64,298.02 329.39,298.01 330.15,298.00 330.90,297.99 331.66,297.99 332.41,297.98 333.17,297.97 333.92,297.97 334.67,297.96 335.43,297.95 336.18,297.94 336.94,297.93 337.69,297.93 338.45,297.92 339.20,297.91 339.96,297.90 340.71,297.89 341.47,297.89 342.22,297.88 342.98,297.87 343.73,297.86 344.49,297.85 345.24,297.84 346.00,297.84 346.75,297.83 347.51,297.82 348.10,297.81" fill="none" stroke="#c23aa8" stroke-width="1.4" stroke-linejoin="round" stroke-linecap="round" />
<polyline points="198.03,296.75 198.78,296.77 199.54,296.79 200.29,296.81 201.05,296.82 201.80,296.84 202.56,296.86 203.31,296.88 204.07,296.90 204.82,296.92 205.58,296.94 206.33,296.96 207.09,296.98 207.84,297.01 208.60,297.03 209.35,297.05 210.11,297.07 210.86,297.09 211.62,297.12 212.37,297.14 213.13,297.16 213.88,297.19 214.64,297.21 215.39,297.24 216.15,297.27 216.90,297.29 217.66,297.32 218.41,297.34 219.17,297.37 219.92,297.40 220.68,297.42 221.43,297.45 222.19,297.47 222.94,297.50 223.70,297.52 224.45,297.55 225.21,297.57 225.96,297.59 226.72,297.61 227.47,297.63 228.23,297.65 228.98,297.67 229.74,297.69 230.49,297.70 231.25,297.72 232.00,297.74 232.76,297.75 233.51,297.77 234.27,297.79 235.02,297.80 235.78,297.82 236.53,297.83 237.29,297.85 238.04,297.86 238.80,297.88 239.55,297.89 240.31,297.91 241.06,297.92 241.82,297.93 242.57,297.95 243.33,297.96 244.08,297.98 244.84,297.99 245.59,298.00 246.35,298.02 247.10,298.03 247.86,298.04 248.61,298.06 249.37,298.07 250.12,298.08 250.88,298.09 251.63,298.10 252.39,298.12 253.14,298.13 253.90,298.14 254.65,298.15 255.41,298.16 256.16,298.17 256.92,298.18 257.67,298.19 258.43,298.20 259.18,298.21 259.94,298.22 260.69,298.23 261.45,298.24 262.20,298.25 262.96,298.26 263.71,298.26 264.47,298.27 265.22,298.27 265.98,298.28 266.73,298.28 267.48,298.29 268.24,298.29 268.99,298.29 269.75,298.29 270.50,298.30 271.26,298.30 272.01,298.30 272.77,298.30 273.52,298.30 274.28,298.30 275.03,298.29 275.79,298.29 276.54,298.29 277.30,298.28 278.05,298.28 278.81,298.28 279.56,298.27 280.32,298.27 281.07,298.27 281.83,298.26 282.58,298.26 283.34,298.25 284.09,298.25 284.85,298.24 285.60,298.24 286.36,298.23 287.11,298.23 287.87,298.22 288.62,298.21 289.38,298.21 290.13,298.20 290.89,298.20 291.64,298.19 292.40,298.18 293.15,298.18 293.91,298.17 294.66,298.16 295.42,298.16 296.17,298.15 296.93,298.14 297.68,298.14 298.44,298.13 299.19,298.12 299.95,298.11 300.70,298.11 301.46,298.10 302.21,298.09 302.97,298.08 303.72,298.08 304.48,298.07 305.23,298.06 305.99,298.05 306.74,298.04 307.50,298.04 308.25,298.03 309.01,298.02 309.76,298.01 310.52,298.00 311.27,298.00 312.03,297.99 312.78,297.98 313.54,297.97 314.29,297.96 315.05,297.95 315.80,297.94 316.56,297.93 317.31,297.92 318.07,297.91 318.82,297.90 319.58,297.88 320.33,297.87 321.09,297.86 321.84,297.85 322.60,297.84 323.35,297.82 324.11,297.81 324.86,297.80 325.62,297.79 326.37,297.77 327.13,297.76 327.88,297.75 328.64,297.73 329.39,297.72 330.15,297.70 330.90,297.69 331.66,297.68 332.41,297.66 333.17,297.65 333.92,297.63 334.67,297.62 335.43,297.60 336.18,297.58 336.94,297.57 337.69,297.55 338.45,297.54 339.20,297.52 339.96,297.51 340.71,297.49 341.47,297.47 342.22,297.46 342.98,297.44 343.73,297.42 344.49,297.41 345.24,297.39 346.00,297.37 346.75,297.36 347.51,297.34 348.10,297.32" fill="none" stroke="#e0246e" stroke-width="1.4" stroke-linejoin="round" stroke-linecap="round" />
<polyline points="198.03,293.36 198.78,293.42 199.54,293.48 200.29,293.54 201.05,293.60 201.80,293.66 202.56,293.72 203.31,293.78 204.07,293.84 204.82,293.91 205.58,293.97 206.33,294.04 207.09,294.11 207.84,294.18 208.60,294.25 209.35,294.31 210.11,294.39 210.86,294.46 211.62,294.53 212.37,294.60 213.13,294.68 213.88,294.76 214.64,294.84 215.39,294.92 216.15,295.00 216.90,295.08 217.66,295.17 218.41,295.25 219.17,295.34 219.92,295.42 220.68,295.50 221.43,295.58 222.19,295.66 222.94,295.75 223.70,295.83 224.45,295.91 225.21,295.98 225.96,296.04 226.72,296.11 227.47,296.17 228.23,296.23 228.98,296.29 229.74,296.34 230.49,296.40 231.25,296.45 232.00,296.51 232.76,296.56 233.51,296.61 234.27,296.66 235.02,296.71 235.78,296.76 236.53,296.81 237.29,296.86 238.04,296.90 238.80,296.95 239.55,297.00 240.31,297.04 241.06,297.09 241.82,297.13 242.57,297.18 243.33,297.22 244.08,297.27 244.84,297.31 245.59,297.36 246.35,297.40 247.10,297.44 247.86,297.48 248.61,297.52 249.37,297.56 250.12,297.60 250.88,297.64 251.63,297.68 252.39,297.71 253.14,297.75 253.90,297.78 254.65,297.82 255.41,297.85 256.16,297.88 256.92,297.92 257.67,297.95 258.43,297.99 259.18,298.02 259.94,298.05 260.69,298.08 261.45,298.11 262.20,298.14 262.96,298.16 263.71,298.18 264.47,298.20 265.22,298.22 265.98,298.23 266.73,298.24 267.48,298.25 268.24,298.26 268.99,298.27 269.75,298.28 270.50,298.29 271.26,298.29 272.01,298.30 272.77,298.30 273.52,298.30 274.28,298.29 275.03,298.28 275.79,298.27 276.54,298.27 277.30,298.26 278.05,298.25 278.81,298.24 279.56,298.23 280.32,298.22 281.07,298.21 281.83,298.20 282.58,298.19 283.34,298.18 284.09,298.17 284.85,298.16 285.60,298.15 286.36,298.14 287.11,298.13 287.87,298.11 288.62,298.10 289.38,298.09 290.13,298.08 290.89,298.06 291.64,298.05 292.40,298.04 293.15,298.02 293.91,298.01 294.66,297.99 295.42,297.98 296.17,297.97 296.93,297.95 297.68,297.94 298.44,297.92 299.19,297.90 299.95,297.89 300.70,297.87 301.46,297.86 302.21,297.84 302.97,297.83 303.72,297.81 304.48,297.79 305.23,297.78 305.99,297.76 306.74,297.74 307.50,297.73 308.25,297.71 309.01,297.69 309.76,297.68 310.52,297.66 311.27,297.64 312.03,297.62 312.78,297.60 313.54,297.59 314.29,297.57 315.05,297.55 315.80,297.53 316.56,297.50 317.31,297.48 318.07,297.46 318.82,297.44 319.58,297.42 320.33,297.40 321.09,297.37 321.84,297.35 322.60,297.33 323.35,297.30 324.11,297.28 324.86,297.25 325.62,297.23 326.37,297.20 327.13,297.18 327.88,297.15 328.64,297.12 329.39,297.10 330.15,297.07 330.90,297.04 331.66,297.01 332.41,296.99 333.17,296.96 333.92,296.93 334.67,296.90 335.43,296.87 336.18,296.84 336.94,296.81 337.69,296.78 338.45,296.75 339.20,296.72 339.96,296.69 340.71,296.66 341.47,296.63 342.22,296.60 342.98,296.57 343.73,296.54 344.49,296.51 345.24,296.47 346.00,296.44 346.75,296.41 347.51,296.38 348.10,296.34" fill="none" stroke="#e8281e" stroke-width="1.4" stroke-linejoin="round" stroke-linecap="round" />
<polyline points="198.03,285.72 198.78,285.86 199.54,286.01 200.29,286.16 201.05,286.31 201.80,286.46 202.56,286.62 203.31,286.78 204.07,286.94 204.82,287.11 205.58,287.27 206.33,287.44 207.09,287.61 207.84,287.79 208.60,287.96 209.35,288.14 210.11,288.32 210.86,288.50 211.62,288.69 212.37,288.88 213.13,289.07 213.88,289.27 214.64,289.47 215.39,289.68 216.15,289.89 216.90,290.10 217.66,290.32 218.41,290.53 219.17,290.74 219.92,290.96 220.68,291.17 221.43,291.37 222.19,291.58 222.94,291.79 223.70,292.00 224.45,292.20 225.21,292.38 225.96,292.54 226.72,292.71 227.47,292.86 228.23,293.02 228.98,293.17 229.74,293.31 230.49,293.45 231.25,293.59 232.00,293.73 232.76,293.86 233.51,293.99 234.27,294.12 235.02,294.25 235.78,294.37 236.53,294.50 237.29,294.62 238.04,294.74 238.80,294.86 239.55,294.98 240.31,295.09 241.06,295.21 241.82,295.33 242.57,295.44 243.33,295.56 244.08,295.67 244.84,295.78 245.59,295.89 246.35,296.00 247.10,296.11 247.86,296.21 248.61,296.32 249.37,296.42 250.12,296.52 250.88,296.61 251.63,296.71 252.39,296.80 253.14,296.89 253.90,296.98 254.65,297.07 255.41,297.15 256.16,297.24 256.92,297.33 257.67,297.41 258.43,297.50 259.18,297.58 259.94,297.66 260.69,297.74 261.45,297.82 262.20,297.89 262.96,297.95 263.71,298.01 264.47,298.06 265.22,298.09 265.98,298.13 266.73,298.15 267.48,298.18 268.24,298.21 268.99,298.23 269.75,298.25 270.50,298.27 271.26,298.29 272.01,298.30 272.77,298.30 273.52,298.29 274.28,298.27 275.03,298.26 275.79,298.24 276.54,298.22 277.30,298.20 278.05,298.18 278.81,298.16 279.56,298.14 280.32,298.12 281.07,298.10 281.83,298.08 282.58,298.06 283.34,298.04 284.09,298.01 284.85,297.99 285.60,297.97 286.36,297.94 287.11,297.92 287.87,297.89 288.62,297.87 289.38,297.84 290.13,297.81 290.89,297.79 291.64,297.76 292.40,297.73 293.15,297.70 293.91,297.68 294.66,297.65 295.42,297.62 296.17,297.59 296.93,297.56 297.68,297.53 298.44,297.50 299.19,297.47 299.95,297.44 300.70,297.41 301.46,297.38 302.21,297.35 302.97,297.32 303.72,297.28 304.48,297.25 305.23,297.22 305.99,297.18 306.74,297.15 307.50,297.11 308.25,297.07 309.01,297.04 309.76,297.00 310.52,296.96 311.27,296.92 312.03,296.88 312.78,296.83 313.54,296.79 314.29,296.75 315.05,296.71 315.80,296.66 316.56,296.62 317.31,296.58 318.07,296.53 318.82,296.49 319.58,296.44 320.33,296.40 321.09,296.35 321.84,296.30 322.60,296.26 323.35,296.21 324.11,296.16 324.86,296.12 325.62,296.07 326.37,296.02 327.13,295.97 327.88,295.92 328.64,295.87 329.39,295.82 330.15,295.77 330.90,295.72 331.66,295.67 332.41,295.61 333.17,295.56 333.92,295.51 334.67,295.45 335.43,295.40 336.18,295.34 336.94,295.29 337.69,295.23 338.45,295.17 339.20,295.11 339.96,295.06 340.71,295.00 341.47,294.94 342.22,294.88 342.98,294.82 343.73,294.76 344.49,294.70 345.24,294.64 346.00,294.58 346.75,294.52 347.51,294.45 348.10,294.39" fill="none" stroke="#f0602a" stroke-width="1.4" stroke-linejoin="round" stroke-linecap="round" />
<polyline points="198.03,271.69 198.78,271.99 199.54,272.30 200.29,272.61 201.05,272.93 201.80,273.26 202.56,273.59 203.31,273.93 204.07,274.27 204.82,274.62 205.58,274.97 206.33,275.33 207.09,275.69 207.84,276.06 208.60,276.43 209.35,276.81 210.11,277.19 210.86,277.58 211.62,277.97 212.37,278.37 213.13,278.78 213.88,279.20 214.64,279.63 215.39,280.07 216.15,280.51 216.90,280.96 217.66,281.41 218.41,281.86 219.17,282.31 219.92,282.76 220.68,283.21 221.43,283.65 222.19,284.08 222.94,284.53 223.70,284.98 224.45,285.40 225.21,285.77 225.96,286.12 226.72,286.47 227.47,286.80 228.23,287.12 228.98,287.44 229.74,287.75 230.49,288.05 231.25,288.35 232.00,288.63 232.76,288.92 233.51,289.19 234.27,289.46 235.02,289.73 235.78,290.00 236.53,290.26 237.29,290.51 238.04,290.77 238.80,291.02 239.55,291.27 240.31,291.52 241.06,291.77 241.82,292.01 242.57,292.26 243.33,292.50 244.08,292.74 244.84,292.97 245.59,293.20 246.35,293.43 247.10,293.66 247.86,293.88 248.61,294.10 249.37,294.32 250.12,294.53 250.88,294.73 251.63,294.94 252.39,295.13 253.14,295.33 253.90,295.51 254.65,295.70 255.41,295.87 256.16,296.05 256.92,296.24 257.67,296.42 258.43,296.60 259.18,296.78 259.94,296.96 260.69,297.12 261.45,297.28 262.20,297.43 262.96,297.56 263.71,297.68 264.47,297.78 265.22,297.87 265.98,297.93 266.73,297.99 267.48,298.05 268.24,298.11 268.99,298.16 269.75,298.20 270.50,298.24 271.26,298.27 272.01,298.29 272.77,298.30 273.52,298.28 274.28,298.24 275.03,298.21 275.79,298.17 276.54,298.13 277.30,298.10 278.05,298.06 278.81,298.02 279.56,297.98 280.32,297.94 281.07,297.90 281.83,297.86 282.58,297.82 283.34,297.78 284.09,297.73 284.85,297.69 285.60,297.65 286.36,297.60 287.11,297.56 287.87,297.51 288.62,297.47 289.38,297.42 290.13,297.37 290.89,297.33 291.64,297.28 292.40,297.23 293.15,297.18 293.91,297.13 294.66,297.08 295.42,297.03 296.17,296.98 296.93,296.93 297.68,296.88 298.44,296.83 299.19,296.78 299.95,296.73 300.70,296.68 301.46,296.63 302.21,296.57 302.97,296.52 303.72,296.46 304.48,296.41 305.23,296.35 305.99,296.29 306.74,296.24 307.50,296.18 308.25,296.12 309.01,296.06 309.76,296.00 310.52,295.93 311.27,295.87 312.03,295.81 312.78,295.74 313.54,295.67 314.29,295.61 315.05,295.54 315.80,295.47 316.56,295.40 317.31,295.32 318.07,295.25 318.82,295.18 319.58,295.10 320.33,295.02 321.09,294.94 321.84,294.86 322.60,294.77 323.35,294.69 324.11,294.60 324.86,294.50 325.62,294.41 326.37,294.31 327.13,294.21 327.88,294.11 328.64,294.00 329.39,293.89 330.15,293.78 330.90,293.67 331.66,293.56 332.41,293.44 333.17,293.32 333.92,293.20 334.67,293.08 335.43,292.95 336.18,292.83 336.94,292.70 337.69,292.57 338.45,292.44 339.20,292.30 339.96,292.17 340.71,292.03 341.47,291.89 342.22,291.75 342.98,291.61 343.73,291.47 344.49,291.33 345.24,291.18 346.00,291.04 346.75,290.89 347.51,290.75 348.10,290.60" fill="none" stroke="#f39a38" stroke-width="1.4" stroke-linejoin="round" stroke-linecap="round" />
<polyline points="198.03,250.40 198.78,250.94 199.54,251.50 200.29,252.06 201.05,252.64 201.80,253.23 202.56,253.82 203.31,254.43 204.07,255.05 204.82,255.68 205.58,256.31 206.33,256.96 207.09,257.61 207.84,258.27 208.60,258.94 209.35,259.62 210.11,260.31 210.86,261.00 211.62,261.70 212.37,262.42 213.13,263.16 213.88,263.92 214.64,264.70 215.39,265.49 216.15,266.28 216.90,267.09 217.66,267.90 218.41,268.71 219.17,269.53 219.92,270.33 220.68,271.14 221.43,271.93 222.19,272.71 222.94,273.51 223.70,274.32 224.45,275.07 225.21,275.75 225.96,276.38 226.72,277.00 227.47,277.60 228.23,278.18 228.98,278.75 229.74,279.31 230.49,279.85 231.25,280.38 232.00,280.90 232.76,281.41 233.51,281.91 234.27,282.40 235.02,282.88 235.78,283.35 236.53,283.82 237.29,284.28 238.04,284.74 238.80,285.19 239.55,285.65 240.31,286.09 241.06,286.54 241.82,286.98 242.57,287.42 243.33,287.86 244.08,288.28 244.84,288.71 245.59,289.13 246.35,289.54 247.10,289.95 247.86,290.35 248.61,290.74 249.37,291.13 250.12,291.51 250.88,291.88 251.63,292.25 252.39,292.60 253.14,292.95 253.90,293.28 254.65,293.61 255.41,293.93 256.16,294.26 256.92,294.59 257.67,294.92 258.43,295.25 259.18,295.57 259.94,295.88 260.69,296.18 261.45,296.46 262.20,296.73 262.96,296.97 263.71,297.18 264.47,297.37 265.22,297.52 265.98,297.64 266.73,297.75 267.48,297.85 268.24,297.95 268.99,298.04 269.75,298.12 270.50,298.19 271.26,298.25 272.01,298.28 272.77,298.30 273.52,298.29 274.28,298.26 275.03,298.22 275.79,298.17 276.54,298.11 277.30,298.05 278.05,297.98 278.81,297.91 279.56,297.83 280.32,297.75 281.07,297.67 281.83,297.58 282.58,297.48 283.34,297.37 284.09,297.24 284.85,297.10 285.60,296.95 286.36,296.79 287.11,296.63 287.87,296.46 288.62,296.29 289.38,296.12 290.13,295.95 290.89,295.78 291.64,295.61 292.40,295.43 293.15,295.25 293.91,295.07 294.66,294.88 295.42,294.69 296.17,294.50 296.93,294.30 297.68,294.11 298.44,293.91 299.19,293.70 299.95,293.50 300.70,293.30 301.46,293.09 302.21,292.89 302.97,292.68 303.72,292.48 304.48,292.27 305.23,292.07 305.99,291.87 306.74,291.66 307.50,291.46 308.25,291.27 309.01,291.07 309.76,290.88 310.52,290.69 311.27,290.51 312.03,290.32 312.78,290.14 313.54,289.97 314.29,289.79 315.05,289.62 315.80,289.45 316.56,289.28 317.31,289.11 318.07,288.94 318.82,288.77 319.58,288.60 320.33,288.44 321.09,288.27 321.84,288.10 322.60,287.93 323.35,287.76 324.11,287.59 324.86,287.41 325.62,287.24 326.37,287.06 327.13,286.88 327.88,286.69 328.64,286.50 329.39,286.31 330.15,286.12 330.90,285.92 331.66,285.71 332.41,285.50 333.17,285.29 333.92,285.07 334.67,284.85 335.43,284.62 336.18,284.39 336.94,284.15 337.69,283.91 338.45,283.67 339.20,283.42 339.96,283.17 340.71,282.92 341.47,282.66 342.22,282.40 342.98,282.14 343.73,281.87 344.49,281.60 345.24,281.33 346.00,281.06 346.75,280.79 347.51,280.51 348.10,280.23" fill="none" stroke="#ece22a" stroke-width="1.4" stroke-linejoin="round" stroke-linecap="round" />
<polyline points="198.03,221.85 198.78,222.72 199.54,223.60 200.29,224.51 201.05,225.43 201.80,226.36 202.56,227.32 203.31,228.29 204.07,229.27 204.82,230.27 205.58,231.29 206.33,232.32 207.09,233.36 207.84,234.42 208.60,235.49 209.35,236.57 210.11,237.66 210.86,238.77 211.62,239.89 212.37,241.04 213.13,242.22 213.88,243.43 214.64,244.67 215.39,245.93 216.15,247.20 216.90,248.49 217.66,249.78 218.41,251.08 219.17,252.38 219.92,253.67 220.68,254.95 221.43,256.22 222.19,257.46 222.94,258.74 223.70,260.02 224.45,261.23 225.21,262.31 225.96,263.32 226.72,264.30 227.47,265.26 228.23,266.19 228.98,267.10 229.74,267.99 230.49,268.86 231.25,269.70 232.00,270.53 232.76,271.34 233.51,272.14 234.27,272.92 235.02,273.69 235.78,274.44 236.53,275.19 237.29,275.93 238.04,276.66 238.80,277.38 239.55,278.10 240.31,278.82 241.06,279.53 241.82,280.24 242.57,280.94 243.33,281.63 244.08,282.32 244.84,282.99 245.59,283.66 246.35,284.32 247.10,284.97 247.86,285.61 248.61,286.24 249.37,286.86 250.12,287.46 250.88,288.06 251.63,288.64 252.39,289.20 253.14,289.76 253.90,290.30 254.65,290.82 255.41,291.33 256.16,291.85 256.92,292.38 257.67,292.90 258.43,293.43 259.18,293.94 259.94,294.44 260.69,294.92 261.45,295.37 262.20,295.79 262.96,296.18 263.71,296.52 264.47,296.81 265.22,297.05 265.98,297.24 266.73,297.41 267.48,297.58 268.24,297.74 268.99,297.89 269.75,298.02 270.50,298.13 271.26,298.21 272.01,298.27 272.77,298.30 273.52,298.26 274.28,298.17 275.03,298.07 275.79,297.94 276.54,297.79 277.30,297.62 278.05,297.44 278.81,297.25 279.56,297.04 280.32,296.83 281.07,296.61 281.83,296.38 282.58,296.12 283.34,295.82 284.09,295.47 284.85,295.10 285.60,294.70 286.36,294.28 287.11,293.85 287.87,293.42 288.62,292.99 289.38,292.57 290.13,292.17 290.89,291.80 291.64,291.43 292.40,291.06 293.15,290.70 293.91,290.35 294.66,290.00 295.42,289.33 296.17,289.54 296.93,289.51 297.68,288.51 298.44,288.29 299.19,287.88 299.95,287.66 300.70,287.38 301.46,287.17 302.21,286.31 302.97,286.52 303.72,285.60 304.48,285.50 305.23,285.31 305.99,284.83 306.74,284.07 307.50,283.72 308.25,283.36 309.01,283.02 309.76,282.85 310.52,281.87 311.27,281.79 312.03,281.32 312.78,280.77 313.54,280.18 314.29,279.83 315.05,279.01 315.80,278.48 316.56,277.81 317.31,277.47 318.07,276.06 318.82,276.18 319.58,275.28 320.33,274.75 321.09,274.10 321.84,273.42 322.60,273.29 323.35,272.77 324.11,272.59 324.86,271.73 325.62,271.94 326.37,271.27 327.13,270.75 327.88,270.24 328.64,269.83 329.39,269.36 330.15,269.10 330.90,268.84 331.66,268.42 332.41,267.76 333.17,267.64 333.92,267.12 334.67,266.98 335.43,266.99 336.18,266.36 336.94,265.79 337.69,265.16 338.45,264.86 339.20,264.47 339.96,264.68 340.71,264.04 341.47,263.89 342.22,263.40 342.98,263.27 343.73,263.37 344.49,262.83 345.24,262.83 346.00,262.68 346.75,263.01 347.51,262.58 348.10,262.58" fill="none" stroke="#4cb848" stroke-width="1.4" stroke-linejoin="round" stroke-linecap="round" />
<polyline points="198.03,177.33 198.78,178.71 199.54,180.11 200.29,181.54 201.05,182.99 201.80,184.48 202.56,185.99 203.31,187.52 204.07,189.08 204.82,190.66 205.58,192.27 206.33,193.90 207.09,195.55 207.84,197.22 208.60,198.91 209.35,200.63 210.11,202.36 210.86,204.11 211.62,205.88 212.37,207.70 213.13,209.57 213.88,211.49 214.64,213.44 215.39,215.43 216.15,217.45 216.90,219.49 217.66,221.53 218.41,223.59 219.17,225.64 219.92,227.68 220.68,229.71 221.43,231.71 222.19,233.68 222.94,235.70 223.70,237.73 224.45,239.65 225.21,241.35 225.96,242.95 226.72,244.51 227.47,246.02 228.23,247.50 228.98,248.94 229.74,250.34 230.49,251.71 231.25,253.05 232.00,254.36 232.76,255.64 233.51,256.90 234.27,258.14 235.02,259.35 235.78,260.55 236.53,261.73 237.29,262.90 238.04,264.06 238.80,265.20 239.55,266.34 240.31,267.48 241.06,268.60 241.82,269.72 242.57,270.83 243.33,271.92 244.08,273.01 244.84,274.08 245.59,275.14 246.35,276.18 247.10,277.21 247.86,278.22 248.61,279.22 249.37,280.19 250.12,281.15 250.88,282.09 251.63,283.01 252.39,283.91 253.14,284.78 253.90,285.64 254.65,286.46 255.41,287.27 256.16,288.09 256.92,288.93 257.67,289.76 258.43,290.59 259.18,291.40 259.94,292.19 260.69,292.95 261.45,293.66 262.20,294.33 262.96,294.94 263.71,295.48 264.47,295.94 265.22,296.33 265.98,296.62 266.73,296.90 267.48,297.17 268.24,297.42 268.99,297.65 269.75,297.85 270.50,298.03 271.26,298.16 272.01,298.25 272.77,298.30 273.52,298.25 274.28,298.12 275.03,297.93 275.79,297.70 276.54,297.43 277.30,297.14 278.05,296.81 278.81,296.37 279.56,295.86 280.32,295.28 281.07,294.65 281.83,293.99 282.58,293.32 283.34,292.63 284.09,291.86 284.85,291.05 285.60,290.18 286.36,289.28 287.11,288.36 287.87,287.42 288.62,286.48 289.38,285.55 290.13,284.64 290.89,283.75 291.64,282.86 292.40,281.97 293.15,281.08 293.91,280.19 294.66,279.29 295.42,278.49 296.17,277.67 296.93,276.64 297.68,275.52 298.44,274.58 299.19,274.20 299.95,272.85 300.70,271.91 301.46,271.36 302.21,270.33 302.97,269.25 303.72,268.07 304.48,267.70 305.23,266.28 305.99,265.33 306.74,264.18 307.50,262.92 308.25,261.95 309.01,261.36 309.76,260.38 310.52,259.27 311.27,258.09 312.03,257.03 312.78,256.28 313.54,255.02 314.29,254.52 315.05,253.55 315.80,252.90 316.56,251.44 317.31,250.10 318.07,249.03 318.82,247.45 319.58,247.08 320.33,246.19 321.09,245.47 321.84,244.43 322.60,243.49 323.35,242.49 324.11,241.69 324.86,240.99 325.62,239.60 326.37,238.92 327.13,237.93 327.88,237.84 328.64,237.05 329.39,236.25 330.15,235.16 330.90,234.82 331.66,234.11 332.41,233.58 333.17,232.93 333.92,232.51 334.67,231.74 335.43,231.45 336.18,230.75 336.94,230.06 337.69,229.53 338.45,228.90 339.20,228.61 339.96,227.81 340.71,227.39 341.47,226.70 342.22,225.94 342.98,225.95 343.73,225.03 344.49,224.94 345.24,224.43 346.00,223.55 346.75,223.33 347.51,223.07 348.10,222.64" fill="none" stroke="#21aee0" stroke-width="1.4" stroke-linejoin="round" stroke-linecap="round" />
<rect x="391.7" y="177.2" width="150.50000000000006" height="121.90000000000003" fill="none" stroke="#222222" stroke-width="1.2"/>
<line x1="388.2" y1="187.55" x2="391.7" y2="187.55" stroke="#222222" stroke-width="1.1"/>
<text transform="translate(386.4,190.05) scale(1,1.1)" font-size="8.3" text-anchor="end" fill="#111111" font-weight="normal" stroke="#111111" stroke-width="0.15" >100</text>
<line x1="388.2" y1="217.9" x2="391.7" y2="217.9" stroke="#222222" stroke-width="1.1"/>
<text transform="translate(386.4,220.4) scale(1,1.1)" font-size="8.3" text-anchor="end" fill="#111111" font-weight="normal" stroke="#111111" stroke-width="0.15" >0</text>
<line x1="388.2" y1="248.25" x2="391.7" y2="248.25" stroke="#222222" stroke-width="1.1"/>
<text transform="translate(386.4,250.75) scale(1,1.1)" font-size="8.3" text-anchor="end" fill="#111111" font-weight="normal" stroke="#111111" stroke-width="0.15" >-100</text>
<line x1="388.2" y1="278.6" x2="391.7" y2="278.6" stroke="#222222" stroke-width="1.1"/>
<text transform="translate(386.4,281.1) scale(1,1.1)" font-size="8.3" text-anchor="end" fill="#111111" font-weight="normal" stroke="#111111" stroke-width="0.15" >-200</text>
<line x1="404.02000000000004" y1="299.1" x2="404.02000000000004" y2="303.1" stroke="#222222" stroke-width="1.1"/>
<text transform="translate(404.02000000000004,311.6) scale(1,1.1)" font-size="8.3" text-anchor="middle" fill="#111111" font-weight="normal" stroke="#111111" stroke-width="0.15" >-40</text>
<line x1="426.81" y1="299.1" x2="426.81" y2="303.1" stroke="#222222" stroke-width="1.1"/>
<text transform="translate(426.81,311.6) scale(1,1.1)" font-size="8.3" text-anchor="middle" fill="#111111" font-weight="normal" stroke="#111111" stroke-width="0.15" >-20</text>
<line x1="449.6" y1="299.1" x2="449.6" y2="303.1" stroke="#222222" stroke-width="1.1"/>
<text transform="translate(449.6,311.6) scale(1,1.1)" font-size="8.3" text-anchor="middle" fill="#111111" font-weight="normal" stroke="#111111" stroke-width="0.15" >0</text>
<line x1="472.39000000000004" y1="299.1" x2="472.39000000000004" y2="303.1" stroke="#222222" stroke-width="1.1"/>
<text transform="translate(472.39000000000004,311.6) scale(1,1.1)" font-size="8.3" text-anchor="middle" fill="#111111" font-weight="normal" stroke="#111111" stroke-width="0.15" >20</text>
<line x1="495.18" y1="299.1" x2="495.18" y2="303.1" stroke="#222222" stroke-width="1.1"/>
<text transform="translate(495.18,311.6) scale(1,1.1)" font-size="8.3" text-anchor="middle" fill="#111111" font-weight="normal" stroke="#111111" stroke-width="0.15" >40</text>
<line x1="517.97" y1="299.1" x2="517.97" y2="303.1" stroke="#222222" stroke-width="1.1"/>
<text transform="translate(517.97,311.6) scale(1,1.1)" font-size="8.3" text-anchor="middle" fill="#111111" font-weight="normal" stroke="#111111" stroke-width="0.15" >60</text>
<line x1="540.76" y1="299.1" x2="540.76" y2="303.1" stroke="#222222" stroke-width="1.1"/>
<text transform="translate(540.76,311.6) scale(1,1.1)" font-size="8.3" text-anchor="middle" fill="#111111" font-weight="normal" stroke="#111111" stroke-width="0.15" >80</text>
<text transform="translate(363.6,235.5) rotate(-90) scale(1,1.1)" x="0" y="0" font-size="9.3" text-anchor="middle" fill="#111111" stroke="#111111" stroke-width="0.15">I<tspan font-size="5.2" stroke-width="0.05" dy="2.6">ds</tspan><tspan dy="-2.6"> (nA)</tspan></text>
<text transform="translate(460.5,323.6) scale(1,1.1)" font-size="9.3" text-anchor="start" fill="#111111" font-weight="normal" stroke="#111111" stroke-width="0.15" >V<tspan font-size="5.2" stroke-width="0.05" dy="2.6">g</tspan><tspan dy="-2.6"> (V)</tspan></text>
<text transform="translate(405.0,196.3) scale(1,1.1)" font-size="7" text-anchor="start" fill="#111111" font-weight="normal" stroke="#111111" stroke-width="0.15" >300 K</text>
<text transform="translate(410.1,263.1) scale(1,1.1)" font-size="7" text-anchor="start" fill="#111111" font-weight="normal" stroke="#111111" stroke-width="0.15" >V<tspan font-size="4.3" stroke-width="0.05" dy="2.1">ds</tspan><tspan dy="-2.1"> (V)</tspan></text>
<line x1="410.7" y1="272.4" x2="421.4" y2="272.4" stroke="#e8301c" stroke-width="1.6"/>
<text transform="translate(426.2,274.9) scale(1,1.1)" font-size="7" text-anchor="start" fill="#111111" font-weight="normal" stroke="#111111" stroke-width="0.15" >5</text>
<line x1="410.7" y1="280.0" x2="421.4" y2="280.0" stroke="#2060b8" stroke-width="1.6"/>
<text transform="translate(424.0,282.5) scale(1,1.1)" font-size="7" text-anchor="start" fill="#111111" font-weight="normal" stroke="#111111" stroke-width="0.15" >-5</text>
<polyline points="458.96,217.90 459.65,217.90 460.33,217.90 461.02,217.90 461.71,217.90 462.40,217.90 463.08,217.90 463.77,217.90 464.46,217.90 465.15,217.90 465.83,217.90 466.52,217.90 467.21,217.90 467.89,217.90 468.58,217.90 469.27,217.90 469.96,217.90 470.64,217.90 471.33,217.90 472.02,217.90 472.71,217.90 473.39,217.89 474.08,217.89 474.77,217.88 475.46,217.88 476.14,217.87 476.83,217.86 477.52,217.84 478.20,217.83 478.89,217.81 479.58,217.79 480.27,217.77 480.95,217.74 481.64,217.71 482.33,217.68 483.02,217.64 483.70,217.60 484.39,217.55 485.08,217.50 485.77,217.45 486.45,217.39 487.14,217.33 487.83,217.26 488.51,217.18 489.20,217.10 489.89,217.02 490.58,216.92 491.26,216.82 491.95,216.72 492.64,216.61 493.33,216.49 494.01,216.36 494.70,216.22 495.39,216.08 496.08,215.93 496.76,215.77 497.45,215.61 498.14,215.43 498.82,215.25 499.51,215.05 500.20,214.85 500.89,214.64 501.57,214.42 502.26,214.19 502.95,213.94 503.64,213.69 504.32,213.43 505.01,213.15 505.70,212.87 506.39,212.57 507.07,212.26 507.76,211.94 508.45,211.61 509.13,211.26 509.82,210.90 510.51,210.53 511.20,210.15 511.88,209.75 512.57,209.34 513.26,208.92 513.95,208.48 514.63,208.03 515.32,207.56 516.01,207.08 516.70,206.58 517.38,206.07 518.07,205.54 518.76,204.99 519.45,204.43 520.13,203.86 520.82,203.26 521.51,202.65 522.19,202.03 522.88,201.38 523.57,200.72 524.26,200.04 524.94,199.35 525.63,198.63 526.32,197.90 527.01,197.15 527.69,196.38 528.38,195.59 529.07,194.78 529.76,193.95 530.44,193.10 531.13,192.23 531.82,191.34 532.50,190.43 533.19,189.49 533.88,188.54 534.57,187.57 535.25,186.57 535.94,185.55 536.63,184.51 537.32,183.45 538.00,182.36 538.69,181.25 539.38,180.12 540.07,178.97 540.75,177.79 541.44,177.40 542.13,177.40" fill="none" stroke="#e8301c" stroke-width="1.6" stroke-linejoin="round" stroke-linecap="round" />
<polyline points="391.60,217.90 392.29,217.90 392.97,217.90 393.66,217.90 394.35,217.90 395.04,217.90 395.72,217.90 396.41,217.90 397.10,217.90 397.79,217.90 398.47,217.90 399.16,217.90 399.85,217.90 400.53,217.90 401.22,217.90 401.91,217.90 402.60,217.90 403.28,217.90 403.97,217.90 404.66,217.90 405.35,217.90 406.03,217.90 406.72,217.90 407.41,217.90 408.10,217.90 408.78,217.90 409.47,217.90 410.16,217.90 410.85,217.90 411.53,217.90 412.22,217.90 412.91,217.90 413.59,217.90 414.28,217.90 414.97,217.90 415.66,217.90 416.34,217.90 417.03,217.90 417.72,217.90 418.41,217.90 419.09,217.90 419.78,217.90 420.47,217.90 421.16,217.90 421.84,217.90 422.53,217.90 423.22,217.90 423.90,217.90 424.59,217.90 425.28,217.90 425.97,217.90 426.65,217.90 427.34,217.90 428.03,217.90 428.72,217.90 429.40,217.90 430.09,217.90 430.78,217.90 431.47,217.90 432.15,217.90 432.84,217.90 433.53,217.90 434.21,217.90 434.90,217.90 435.59,217.90 436.28,217.90 436.96,217.90 437.65,217.90 438.34,217.90 439.03,217.90 439.71,217.90 440.40,217.90 441.09,217.90 441.78,217.90 442.46,217.90 443.15,217.90 443.84,217.90 444.52,217.90 445.21,217.90 445.90,217.90 446.59,217.90 447.27,217.90 447.96,217.90 448.65,217.90 449.34,217.90 450.02,217.90 450.71,217.90 451.40,217.90 452.09,217.90 452.77,217.90 453.46,217.90 454.15,217.91 454.83,217.91 455.52,217.91 456.21,217.91 456.90,217.91 457.58,217.92 458.27,217.92 458.96,217.92 459.65,217.93 460.33,217.93 461.02,217.94 461.71,217.94 462.40,217.95 463.08,217.95 463.77,217.96 464.46,217.97 465.15,217.97 465.83,217.98 466.52,217.99 467.21,218.00 467.89,218.03 468.58,218.08 469.27,218.14 469.96,218.21 470.64,218.28 471.33,218.37 472.02,218.46 472.71,218.55 473.39,218.67 474.08,218.81 474.77,218.97 475.46,219.15 476.14,219.34 476.83,219.53 477.52,219.75 478.20,219.99 478.89,220.26 479.58,220.54 480.27,220.84 480.95,221.15 481.64,221.46 482.33,221.77 483.02,222.09 483.70,222.42 484.39,222.76 485.08,223.10 485.77,223.46 486.45,223.83 487.14,224.21 487.83,224.61 488.51,225.02 489.20,225.45 489.89,225.89 490.58,226.35 491.26,226.82 491.95,227.30 492.64,227.79 493.33,228.28 494.01,228.78 494.70,229.28 495.39,229.79 496.08,230.32 496.76,230.85 497.45,231.39 498.14,231.93 498.82,232.48 499.51,233.04 500.20,233.60 500.89,234.17 501.57,234.74 502.26,235.30 502.95,235.87 503.64,236.44 504.32,237.02 505.01,237.59 505.70,238.18 506.39,238.78 507.07,239.38 507.76,240.01 508.45,240.65 509.13,241.30 509.82,241.97 510.51,242.65 511.20,243.34 511.88,244.05 512.57,244.77 513.26,245.51 513.95,246.27 514.63,247.04 515.32,247.83 516.01,248.64 516.70,249.47 517.38,250.32 518.07,251.19 518.76,252.08 519.45,253.00 520.13,253.93 520.82,254.89 521.51,255.88 522.19,256.89 522.88,257.92 523.57,258.99 524.26,260.10 524.94,261.25 525.63,262.43 526.32,263.64 527.01,264.88 527.69,266.13 528.38,267.39 529.07,268.67 529.76,269.95 530.44,271.23 531.13,272.48 531.82,273.74 532.50,275.01 533.19,276.33 533.88,277.69 534.57,279.14 535.25,280.68 535.94,282.35 536.63,284.20 537.32,286.21 538.00,288.32 538.69,290.50 539.38,292.71 540.07,294.91 540.75,297.05 541.44,299.00 542.13,299.00" fill="none" stroke="#2060b8" stroke-width="1.6" stroke-linejoin="round" stroke-linecap="round" />
</svg>
</body></html>
